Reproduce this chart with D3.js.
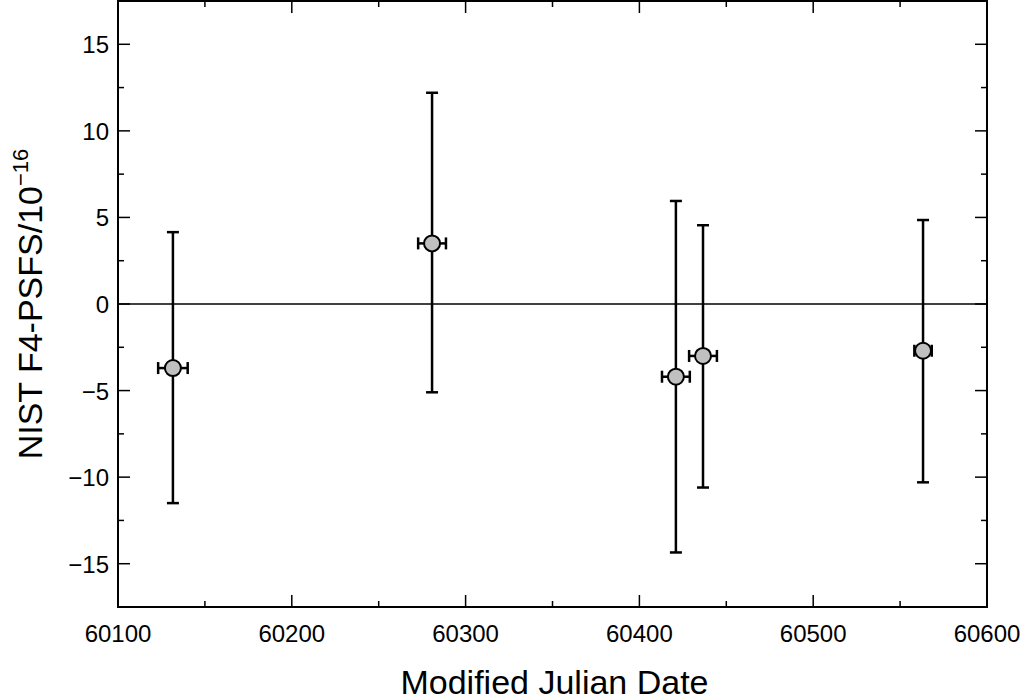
<!DOCTYPE html>
<html><head><meta charset="utf-8">
<script src="https://cdn.jsdelivr.net/npm/d3@7"></script>
<style>body{margin:0;background:#fff}</style>
</head><body><svg id="c" width="1025" height="697"></svg>
<script>
var mjd    = [60131.6, 60280.7, 60421.0, 60436.6, 60563.2];
var mjdErr = [8.5, 8, 8, 8, 5];
var diff   = [-3.7, 3.5, -4.2, -3.0, -2.7];
var errUp  = [4.15, 12.2, 5.95, 4.55, 4.85];
var errLo  = [-11.5, -5.1, -14.35, -10.6, -10.3];
var xTicks = [60100, 60200, 60300, 60400, 60500, 60600];
var yTicks = [-15, -10, -5, 0, 5, 10, 15];

var svg = d3.select("#c");
var L = 118, R = 987, T = 1, B = 607;
var x = d3.scaleLinear().domain([60100, 60600]).range([L, R]);
var y = d3.scaleLinear().domain([-17.5, 17.5]).range([B, T]);
var font = "Liberation Sans, Arial, sans-serif";

// ticks, inward on all sides
function ticks(axis, scale, vals, len) {
    var g = svg.append("g").attr("stroke", "#000").attr("stroke-width", 1.5);
    vals.forEach(function (v) {
        var p = scale(v);
        if (axis == "x") {
            g.append("line").attr("x1", p).attr("x2", p).attr("y1", B).attr("y2", B - len);
            g.append("line").attr("x1", p).attr("x2", p).attr("y1", T).attr("y2", T + len);
        } else {
            g.append("line").attr("y1", p).attr("y2", p).attr("x1", L).attr("x2", L + len);
            g.append("line").attr("y1", p).attr("y2", p).attr("x1", R).attr("x2", R - len);
        }
    });
}
ticks("x", x, xTicks, 12);
ticks("x", x, d3.range(60150, 60600, 100), 6);
ticks("y", y, yTicks, 12);
ticks("y", y, d3.range(-17.5, 17.6, 5), 6);

svg.append("line").attr("x1", L).attr("x2", R).attr("y1", y(0)).attr("y2", y(0))
    .attr("stroke", "#000").attr("stroke-width", 1.5);

svg.selectAll(".xl").data(xTicks).enter().append("text")
    .attr("x", d => x(d)).attr("y", B + 35).attr("text-anchor", "middle")
    .attr("font-family", font).attr("font-size", 24).text(d => d);
svg.selectAll(".yl").data(yTicks).enter().append("text")
    .attr("x", L - 9).attr("y", d => y(d) + 9).attr("text-anchor", "end")
    .attr("font-family", font).attr("font-size", 24).text(d => d < 0 ? "\u2212" + (-d) : d);

svg.append("text").attr("x", (L + R) / 2 + 2).attr("y", 694).attr("text-anchor", "middle")
    .attr("font-family", font).attr("font-size", 34).text("Modified Julian Date");
var yl = svg.append("text").attr("transform", "translate(42," + ((T + B) / 2) + ") rotate(-90)")
    .attr("text-anchor", "middle").attr("font-family", font).attr("font-size", 34);
yl.append("tspan").text("NIST F4-PSFS/10");
yl.append("tspan").attr("dy", -14).attr("font-size", 22).text("\u221216");

// error bars
var g = svg.append("g").attr("stroke", "#000").attr("stroke-width", 2.5);
mjd.forEach(function (m, i) {
    var cx = x(m), cy = y(diff[i]);
    g.append("line").attr("x1", cx).attr("x2", cx).attr("y1", y(errUp[i])).attr("y2", y(errLo[i]));
    [errUp[i], errLo[i]].forEach(v => g.append("line").attr("x1", cx - 6).attr("x2", cx + 6).attr("y1", y(v)).attr("y2", y(v)));
    var x0 = x(m - mjdErr[i]), x1 = x(m + mjdErr[i]);
    g.append("line").attr("x1", x0).attr("x2", x1).attr("y1", cy).attr("y2", cy);
    [x0, x1].forEach(p => g.append("line").attr("x1", p).attr("x2", p).attr("y1", cy - 6).attr("y2", cy + 6));
    g.append("circle").attr("cx", cx).attr("cy", cy).attr("r", 8).attr("fill", "#c0c0c0").attr("stroke-width", 2);
});

svg.append("rect").attr("x", L).attr("y", T).attr("width", R - L).attr("height", B - T)
    .attr("fill", "none").attr("stroke", "#000").attr("stroke-width", 2);
</script></body></html>
